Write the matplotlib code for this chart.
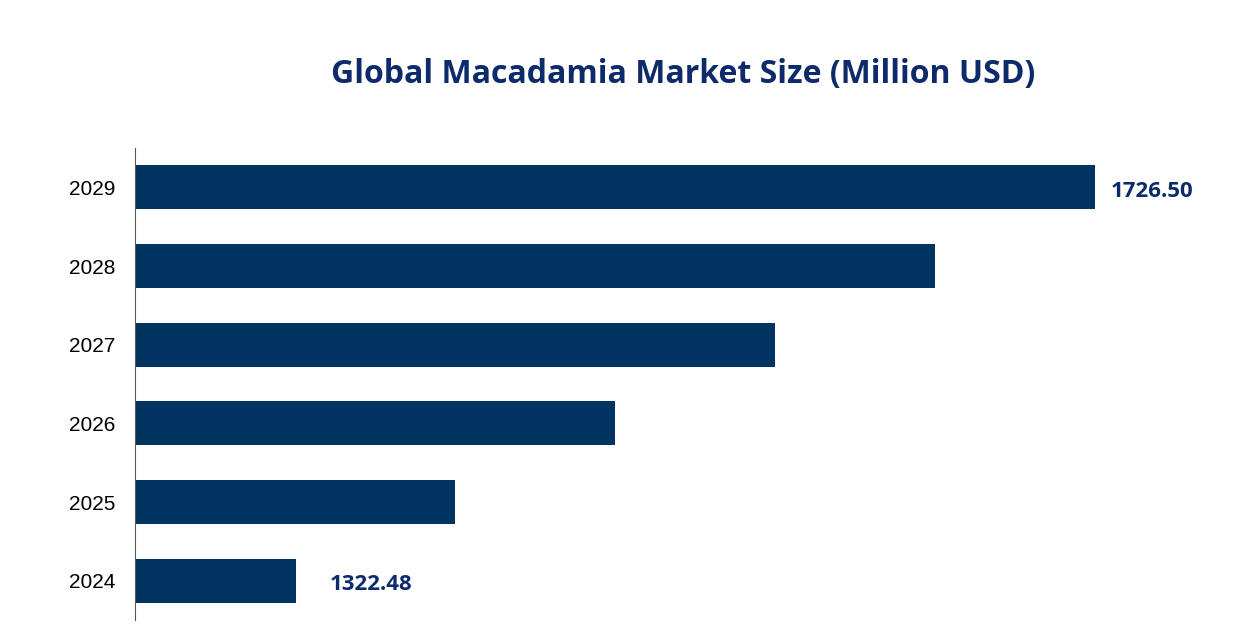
import matplotlib
matplotlib.use("Agg")
import matplotlib.pyplot as plt

years = ["2024", "2025", "2026", "2027", "2028", "2029"]
values = [1322.48, 1402.9, 1483.8, 1564.7, 1645.6, 1726.50]
labels = {0: "1322.48", 5: "1726.50"}

fig = plt.figure(figsize=(12.36, 6.42), dpi=100)
ax = fig.add_axes([135 / 1236, 22 / 642, 1101 / 1236, 472 / 642])

ax.barh(range(len(years)), values, height=0.56, color="#003460", left=0)
ax.set_xlim(1241, 1797.6)
ax.set_ylim(-0.5, 5.5)
ax.set_yticks(range(len(years)))
ax.set_yticklabels(years, fontsize=15, family="Liberation Sans")
ax.tick_params(axis="y", length=0, pad=14)
ax.set_xticks([])
for s in ["top", "right", "bottom"]:
    ax.spines[s].set_visible(False)
ax.spines["left"].set_color("#555555")

ax.text(values[5] + 8, 5 - 0.05, labels[5], va="center", ha="left",
        fontsize=16, fontweight="bold", color="#0d2a6b", family="Open Sans")
ax.text(values[0] + 17, 0 - 0.05, labels[0], va="center", ha="left",
        fontsize=16, fontweight="bold", color="#0d2a6b", family="Open Sans")

fig.text(683 / 1236, 1 - 75 / 642, "Global Macadamia Market Size (Million USD)",
         ha="center", va="center", fontsize=23, fontweight="bold",
         color="#0d2a6b", family="Open Sans")

fig.savefig("out.png", dpi=100)
